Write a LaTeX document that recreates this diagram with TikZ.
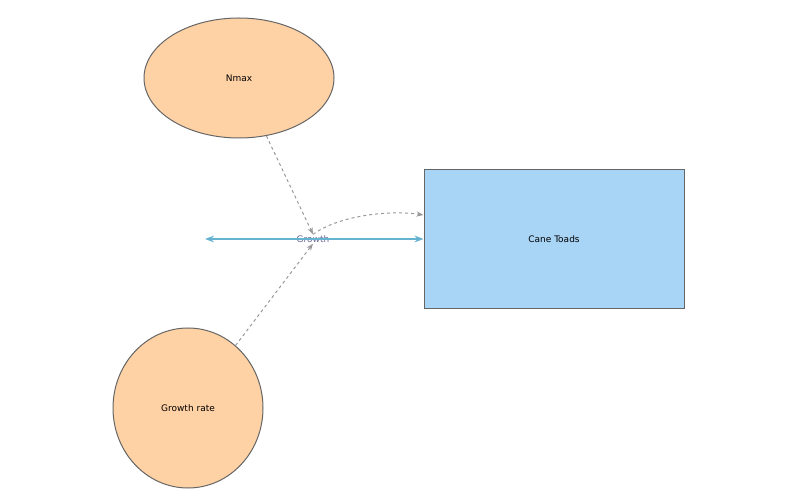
\documentclass[tikz,border=0pt]{standalone}
\usepackage{fontspec}
\setmainfont{DejaVu Sans}
\usetikzlibrary{shapes.geometric,arrows.meta}
\begin{document}
\begin{tikzpicture}[x=1pt,y=-1pt,
  var/.style={ellipse,draw=black!60,fill=orange!35!white,line width=1pt,font=\fontsize{9}{11}\selectfont},
  stock/.style={rectangle,draw=black!60,fill=cyan!30!blue!25!white,line width=1pt,font=\fontsize{9}{11}\selectfont},
  link/.style={dashed,draw=black!40,line width=1pt,-{Stealth[length=7pt]}},
  flow/.style={draw=blue!40!black!50!cyan!60,line width=2pt,{Stealth[length=9pt]}-{Stealth[length=9pt]}}]
\useasboundingbox (0,0) rectangle (800,502);
\node[var,minimum width=190,minimum height=120] (nmax) at (239,78) {Nmax};
\node[var,minimum width=150,minimum height=160] (gr) at (188,408) {Growth rate};
\node[stock,fill={rgb,255:red,168;green,212;blue,246},minimum width=260,minimum height=139] (ct) at (554,239) {Cane Toads};
\coordinate (src) at (205,239);
\node[font=\fontsize{9}{11}\selectfont,text=blue!30!black!60,inner sep=1pt] (g) at (313,239) {Growth};
\draw[flow] (src) -- (ct.west);
\draw[link] (nmax) -- (g.north);
\draw[link] (gr) -- (g.south);
\draw[link] (g.north) .. controls (340,215) and (390,210) .. (ct.west |- 0,215);
\end{tikzpicture}
\end{document}
